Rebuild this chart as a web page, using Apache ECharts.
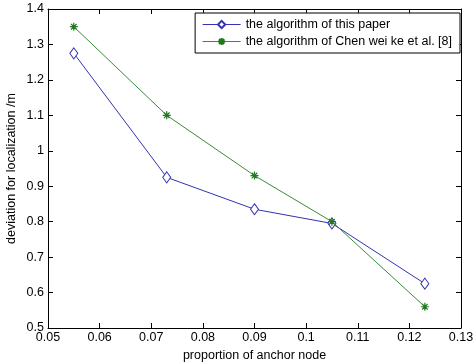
<!DOCTYPE html>
<html><head><meta charset="utf-8">
<script src="https://cdn.jsdelivr.net/npm/echarts@6/dist/echarts.min.js"></script>
<style>html,body{margin:0;padding:0;background:#fff}#c{width:474px;height:363px}</style>
</head><body><div id="c"></div>
<script>
const xValues = [0.055, 0.073, 0.09, 0.105, 0.123];
const thisPaper = [1.275, 0.925, 0.835, 0.795, 0.625];
const chenWeiKe = [1.35, 1.10, 0.93, 0.80, 0.56];
const seriesNames = ['the algorithm of this paper', 'the algorithm of Chen wei ke et al. [8]'];
const xName = 'proportion of anchor node';
const yName = 'deviation for localization /m';

const font = 'Liberation Sans, Arial, sans-serif';
const fs = 12.5;
const star = 'path://M5 0L5 10M0 5L10 5M1.5 1.5L8.5 8.5M8.5 1.5L1.5 8.5';
const chart = echarts.init(document.getElementById('c'));
const pair = (xs, ys) => xs.map((x, i) => [x, ys[i]]);
const axisCommon = {
  axisLine: {show: true, lineStyle: {color: '#000', width: 1}},
  axisTick: {show: true, inside: true, length: 5, lineStyle: {color: '#000'}},
  splitLine: {show: false}
};
chart.setOption({
  animation: false,
  backgroundColor: '#fff',
  textStyle: {fontFamily: font},
  grid: {left: 48, right: 13, top: 9, bottom: 35, containLabel: false, outerBoundsMode: 'none'},
  legend: {
    orient: 'vertical', right: 14, top: 13,
    backgroundColor: '#fff', borderColor: '#000', borderWidth: 1, borderRadius: 0,
    padding: [5, 8, 5, 7], itemGap: 4, itemWidth: 38, itemHeight: 9,
    lineStyle: {width: 1},
    textStyle: {fontFamily: font, fontSize: fs, color: '#000'},
    data: seriesNames
  },
  xAxis: [{
    type: 'value', min: 0.05, max: 0.13, interval: 0.01,
    name: xName, nameLocation: 'middle', nameGap: 19,
    nameTextStyle: {fontFamily: font, fontSize: fs, color: '#000'},
    axisLabel: {color: '#000', fontSize: fs, margin: 3, fontFamily: font,
      formatter: v => String(+v.toFixed(2))},
    ...axisCommon
  }, {
    type: 'value', min: 0.05, max: 0.13, interval: 0.01, position: 'top',
    axisLabel: {show: false}, ...axisCommon
  }],
  yAxis: [{
    type: 'value', min: 0.5, max: 1.4, interval: 0.1,
    name: yName, nameLocation: 'middle', nameGap: 30, nameMoveOverlap: false,
    nameTextStyle: {fontFamily: font, fontSize: fs, color: '#000'},
    axisLabel: {color: '#000', fontSize: fs, margin: 4, fontFamily: font,
      formatter: v => String(+v.toFixed(1))},
    ...axisCommon
  }, {
    type: 'value', min: 0.5, max: 1.4, interval: 0.1, position: 'right',
    axisLabel: {show: false}, ...axisCommon
  }],
  series: [{
    name: seriesNames[0], type: 'line', data: pair(xValues, thisPaper),
    symbol: 'diamond', symbolSize: [8, 11], showAllSymbol: true,
    lineStyle: {color: '#3333b0', width: 1},
    itemStyle: {color: '#fff', borderColor: '#3333b0', borderWidth: 1}
  }, {
    name: seriesNames[1], type: 'line', data: pair(xValues, chenWeiKe),
    symbol: star, symbolSize: 8, showAllSymbol: true,
    lineStyle: {color: '#3a8a3a', width: 1},
    itemStyle: {color: '#2a7f2a', borderColor: '#1f7a1f', borderWidth: 1.2}
  }]
});
</script></body></html>
